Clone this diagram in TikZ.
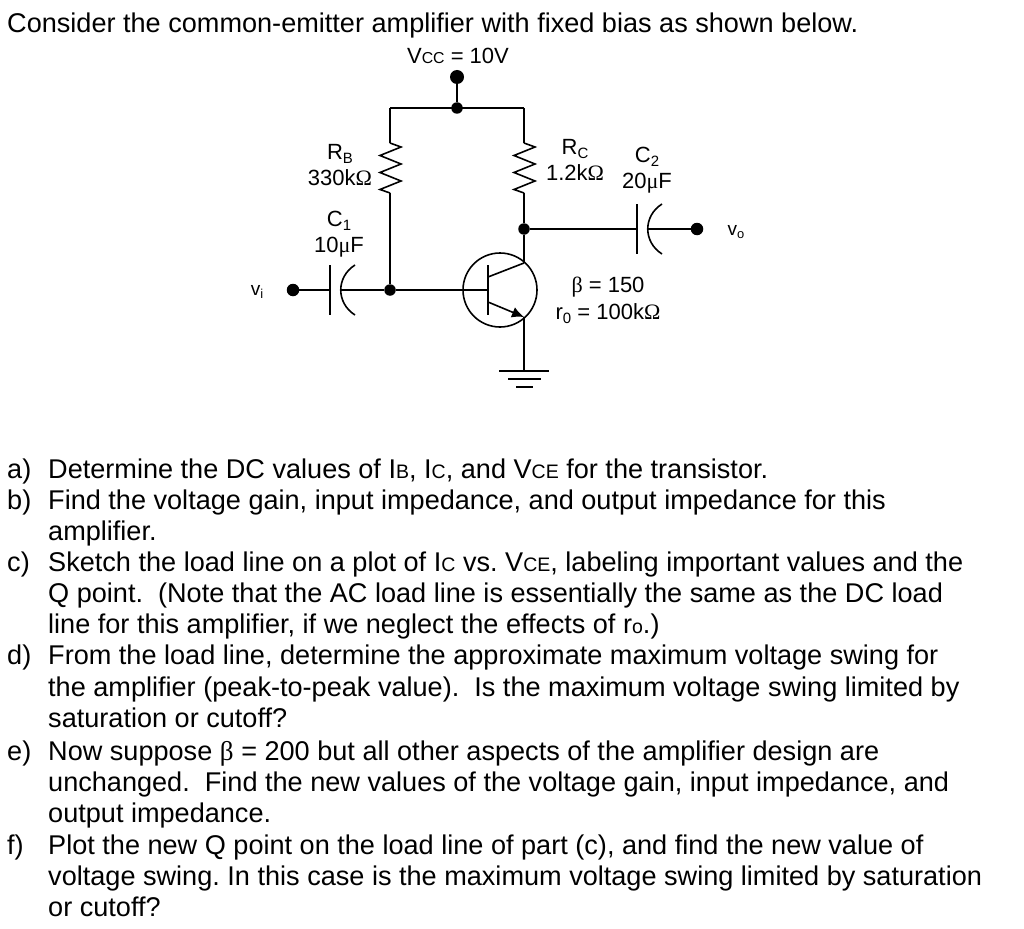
\documentclass[tikz,border=0pt]{standalone}
\usepackage{fontspec}
\setmainfont{Liberation Sans}
\newfontfamily\symfont{Liberation Serif}
\usetikzlibrary{arrows.meta}
\newcommand{\lowtxt}[1]{{\fontsize{.72em}{1em}\selectfont #1}}
\newcommand{\lowsub}[1]{\raisebox{-.18em}{\fontsize{.68em}{1em}\selectfont #1}}
\frenchspacing
\begin{document}
\begin{tikzpicture}[x=1pt, y=-1pt]
    \tikzset{ dotbig/.style={circle,fill=black,inner sep=0pt,minimum size=14pt},
            dotjoin/.style={circle,fill=black,inner sep=0pt,minimum size=11.5pt},
            wire/.style={line width=1.6pt},
            zig/.style={wire,to path={-- ++(11,4) -- ++(-21,8.5) -- ++(21,8.5) -- ++(-21,8.5) -- ++(21,8.5) -- ++(-21,8.5) -- (\tikztotarget)}},
            val/.style={font=\fontsize{22}{25}\selectfont,inner sep=0pt,align=center},
            qline/.style={font=\fontsize{27.1}{30}\selectfont,anchor=base west,inner sep=0pt}}
    \useasboundingbox (0,0) rectangle (1024,928);

    % Circuit points
    \node[dotbig] (vcc) at (457,77) {};
    \node[dotjoin] (top) at (457,108) {};
    \coordinate (topl) at (390,108);
    \coordinate (topr) at (524,108);
    \coordinate (rbtop) at (390,143);
    \coordinate (rbbot) at (390,193);
    \coordinate (rctop) at (524,143);
    \coordinate (rcbot) at (524,193);
    \node[dotjoin] (basej) at (390,290) {};
    \node[dotjoin] (collj) at (524,229) {};
    \node[dotbig,minimum size=12.5pt] (vin) at (293,290) {};
    \node[dotbig,minimum size=12.5pt] (vout) at (697,229) {};

    % Capacitors
    \coordinate (c1a) at (330,290);
    \coordinate (c1b) at (341,290);
    \coordinate (c2a) at (637,229);
    \coordinate (c2b) at (648,229);
    \draw[wire] (330,265) -- (330,315);
    \draw[wire] (355,265) .. controls (336,277) and (336,303) .. (355,315);
    \draw[wire] (637,204) -- (637,254);
    \draw[wire] (662,204) .. controls (643,216) and (643,242) .. (662,254);

    % Transistor
    \node[circle,draw,line width=1.6pt,minimum size=74pt,inner sep=0pt] (bjt) at (500,290) {};
    \coordinate (bar) at (488,290);
    \coordinate (coll) at (524,263);
    \coordinate (emit) at (524,317);
    \coordinate (gnd) at (524,371);
    \draw[wire] (488,265) -- (488,315);
    \draw[wire] (488,277) -- (coll);
    \draw[wire,-{Latex[length=12pt,width=11pt]}] (488,302) -- (emit);

    % Wires
    \draw[wire] (vcc) -- (top);
    \draw[wire] (topl) -- (topr);
    \draw[wire] (topl) -- (rbtop);
    \draw[wire] (topr) -- (rctop);
    \draw[zig] (rbtop) to (rbbot);
    \draw[zig] (rctop) to (rcbot);
    \draw[wire] (rbbot) -- (basej);
    \draw[wire] (rcbot) -- (collj);
    \draw[wire] (collj) -- (coll);
    \draw[wire] (vin) -- (c1a);
    \draw[wire] (c1b) -- (basej);
    \draw[wire] (basej) -- (bar);
    \draw[wire] (collj) -- (c2a);
    \draw[wire] (c2b) -- (vout);
    \draw[wire] (emit) -- (gnd);
    \draw[wire] (499,371) -- (549,371);
    \draw[wire] (508,379) -- (541,379);
    \draw[wire] (516,387) -- (533,387);

    % Labels
    \node[val] (vcclabel) at (458,56) {V\lowtxt{CC} = 10V};
    \node[val] (rblabel) at (340,165) {R\lowsub{B}\\[1pt]330k{\symfont Ω}};
    \node[val] (c1label) at (339,234) {C\lowsub{1}\\[1pt]10{\symfont μ}F};
    \node[val] (rclabel) at (575,160) {R\lowsub{C}\\[1pt]1.2k{\symfont Ω}};
    \node[val] (c2label) at (647,170) {C\lowsub{2}\\[1pt]20{\symfont μ}F};
    \node[val] (betalabel) at (608,300) {{\symfont β} = 150\\[2pt]r\lowsub{0} = 100k{\symfont Ω}};
    \node[val,font=\fontsize{19}{22}\selectfont] (vilabel) at (257,292) {v\lowsub{i}};
    \node[val,font=\fontsize{19}{22}\selectfont] (vollabel) at (736,232) {v\lowsub{o}};

    % Questions
    \node[qline] (title) at (7,33) {Consider the common-emitter amplifier with fixed bias as shown below.};
    \node[qline] (qa) at (7,478) {a)};
    \node[qline] (qa1) at (48,478) {Determine the DC values of I\lowtxt{B}, I\lowtxt{C}, and V\lowtxt{CE} for the transistor.};
    \node[qline] (qb) at (7,509) {b)};
    \node[qline] (qb1) at (48,509) {Find the voltage gain, input impedance, and output impedance for this};
    \node[qline] (qb2) at (48,540) {amplifier.};
    \node[qline] (qc) at (7,571) {c)};
    \node[qline] (qc1) at (48,571) {Sketch the load line on a plot of I\lowtxt{C} vs. V\lowtxt{CE}, labeling important values and the};
    \node[qline] (qc2) at (48,602) {Q point.\ \ (Note that the AC load line is essentially the same as the DC load};
    \node[qline] (qc3) at (48,633) {line for this amplifier, if we neglect the effects of r\lowtxt{o}.)};
    \node[qline] (qd) at (7,664) {d)};
    \node[qline] (qd1) at (48,664) {From the load line, determine the approximate maximum voltage swing for};
    \node[qline] (qd2) at (48,696) {the amplifier (peak-to-peak value).\ \ Is the maximum voltage swing limited by};
    \node[qline] (qd3) at (48,727) {saturation or cutoff?};
    \node[qline] (qe) at (7,760) {e)};
    \node[qline] (qe1) at (48,760) {Now suppose {\symfont β} = 200 but all other aspects of the amplifier design are};
    \node[qline] (qe2) at (48,791) {unchanged.\ \ Find the new values of the voltage gain, input impedance, and};
    \node[qline] (qe3) at (48,822) {output impedance.};
    \node[qline] (qf) at (7,854) {f)};
    \node[qline] (qf1) at (48,854) {Plot the new Q point on the load line of part (c), and find the new value of};
    \node[qline] (qf2) at (48,885) {voltage swing. In this case is the maximum voltage swing limited by saturation};
    \node[qline] (qf3) at (48,916) {or cutoff?};
\end{tikzpicture}
\end{document}
